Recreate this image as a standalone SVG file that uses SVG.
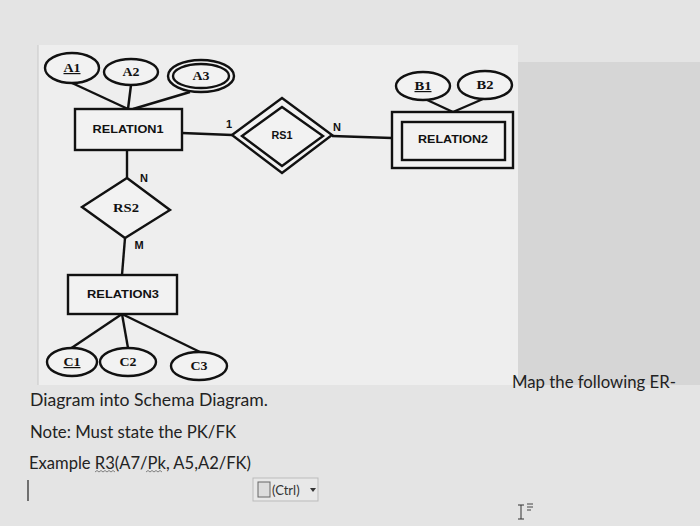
<svg xmlns="http://www.w3.org/2000/svg" width="700" height="526" viewBox="0 0 700 526">
<style>
.s{fill:none;stroke:#111;stroke-width:2.4}
.e{fill:#f2f2f2;stroke:#111;stroke-width:2.4}
.ts{font-family:"Liberation Sans",Arial,sans-serif;font-weight:bold;font-size:11px;fill:#111;text-anchor:middle}
.tf{font-family:"Liberation Serif","Times New Roman",serif;font-weight:bold;font-size:12px;fill:#111;text-anchor:middle}
.tc{font-family:"Lato","Open Sans",sans-serif;font-size:17px;fill:#222}
.w{fill:none;stroke:#666;stroke-width:0.8}
</style>
<rect x="0" y="0" width="700" height="526" fill="#e4e4e4"/>
<rect x="38" y="45" width="480" height="340" fill="#eeeeee"/>
<line x1="38" y1="45" x2="38" y2="385" stroke="#c8c8c8" stroke-width="1"/>
<rect x="518" y="62" width="182" height="323" fill="#d6d6d6"/>
<g id="connectors" class="s">
<line x1="72" y1="83" x2="128" y2="109"/>
<line x1="131" y1="85" x2="128" y2="109"/>
<line x1="190" y1="92" x2="133" y2="109"/>
<line x1="182" y1="133" x2="232" y2="135"/>
<line x1="332" y1="136" x2="392" y2="138"/>
<line x1="425" y1="99" x2="453" y2="112"/>
<line x1="483" y1="99" x2="453" y2="112"/>
<line x1="127" y1="150" x2="127" y2="178"/>
<line x1="125" y1="238" x2="122" y2="275"/>
<line x1="122" y1="314" x2="70" y2="349"/>
<line x1="122" y1="314" x2="128" y2="348"/>
<line x1="122" y1="314" x2="200" y2="352"/>
</g>
<g id="labels">
<text class="ts" x="229" y="128">1</text>
<text class="ts" x="337" y="131">N</text>
<text class="ts" x="144" y="182">N</text>
<text class="ts" x="139" y="249">M</text>
</g>
<g id="A1"><ellipse class="e" cx="72" cy="68" rx="27" ry="15"/><text class="tf" x="72" y="72" text-decoration="underline" textLength="17" lengthAdjust="spacingAndGlyphs">A1</text></g>
<g id="A2"><ellipse class="e" cx="131" cy="72" rx="27" ry="13"/><text class="tf" x="131" y="76" textLength="17" lengthAdjust="spacingAndGlyphs">A2</text></g>
<g id="A3"><ellipse class="e" cx="201" cy="76" rx="33" ry="16"/><ellipse class="s" cx="201" cy="76" rx="28" ry="12"/><text class="tf" x="201" y="80" textLength="17" lengthAdjust="spacingAndGlyphs">A3</text></g>
<g id="RELATION1"><rect class="e" x="75" y="109" width="107" height="41"/><text class="ts" x="128" y="133" textLength="71" lengthAdjust="spacingAndGlyphs">RELATION1</text></g>
<g id="RS1"><polygon class="e" points="232,135 282,98 332,135 282,173"/><polygon class="s" points="242,136 282,107 323,136 282,166"/><text class="ts" x="282" y="139" textLength="21" lengthAdjust="spacingAndGlyphs">RS1</text></g>
<g id="RELATION2"><rect class="e" x="392" y="112" width="121" height="56"/><rect class="s" x="402" y="122" width="103" height="38"/><text class="ts" x="453" y="143" textLength="70" lengthAdjust="spacingAndGlyphs">RELATION2</text></g>
<g id="B1"><ellipse class="e" cx="423" cy="86" rx="27" ry="14"/><text class="tf" x="423" y="90" text-decoration="underline" textLength="17" lengthAdjust="spacingAndGlyphs">B1</text></g>
<g id="B2"><ellipse class="e" cx="485" cy="85" rx="27" ry="14"/><text class="tf" x="485" y="89" textLength="17" lengthAdjust="spacingAndGlyphs">B2</text></g>
<g id="RS2"><polygon class="e" points="82,207 127,178 170,210 125,238"/><text class="tf" x="126" y="212" textLength="26" lengthAdjust="spacingAndGlyphs">RS2</text></g>
<g id="RELATION3"><rect class="e" x="68" y="275" width="109" height="39"/><text class="ts" x="123" y="298" textLength="72" lengthAdjust="spacingAndGlyphs">RELATION3</text></g>
<g id="C1"><ellipse class="e" cx="72" cy="362" rx="25" ry="14"/><text class="tf" x="72" y="366" text-decoration="underline" textLength="17" lengthAdjust="spacingAndGlyphs">C1</text></g>
<g id="C2"><ellipse class="e" cx="128" cy="362" rx="28" ry="14"/><text class="tf" x="128" y="366" textLength="17" lengthAdjust="spacingAndGlyphs">C2</text></g>
<g id="C3"><ellipse class="e" cx="199" cy="366" rx="28" ry="14"/><text class="tf" x="199" y="370" textLength="17" lengthAdjust="spacingAndGlyphs">C3</text></g>
<g id="text">
<text class="tc" x="512" y="388" textLength="164" lengthAdjust="spacingAndGlyphs">Map the following ER-</text>
<text class="tc" x="30" y="406" textLength="238" lengthAdjust="spacingAndGlyphs">Diagram into Schema Diagram.</text>
<text class="tc" x="30" y="438" textLength="206" lengthAdjust="spacingAndGlyphs">Note: Must state the PK/FK</text>
<text class="tc" x="29" y="469" textLength="222" lengthAdjust="spacingAndGlyphs">Example R3(A7/Pk, A5,A2/FK)</text>
<path class="w" d="M95,472 l2,-1.5 l2,1.5 l2,-1.5 l2,1.5 l2,-1.5 l2,1.5 l2,-1.5 l2,1.5 l2,-1.5 l2,1.5"/>
<path class="w" d="M146,472 l2,-1.5 l2,1.5 l2,-1.5 l2,1.5 l2,-1.5 l2,1.5 l2,-1.5 l2,1.5"/>
<line x1="28" y1="480" x2="28" y2="501" stroke="#222" stroke-width="1.2"/>
<rect x="253" y="478" width="65" height="23" fill="#e8e8e8" stroke="#bbb" stroke-width="1"/>
<rect x="258" y="482" width="12" height="15" fill="#ddd" stroke="#666" stroke-width="1"/>
<text x="272" y="495" font-family="Lato,'Open Sans',sans-serif" font-size="13" fill="#333">(Ctrl)</text>
<polygon points="310,488 316,488 313,492" fill="#333"/>
<line x1="521" y1="505" x2="521" y2="519" stroke="#333" stroke-width="1"/>
<line x1="518" y1="505" x2="524" y2="505" stroke="#333" stroke-width="1"/>
<line x1="518" y1="519" x2="524" y2="519" stroke="#333" stroke-width="1"/>
<line x1="527" y1="504" x2="533" y2="504" stroke="#444" stroke-width="1"/>
<line x1="527" y1="507" x2="533" y2="507" stroke="#444" stroke-width="1"/>
<line x1="527" y1="510" x2="531" y2="510" stroke="#444" stroke-width="1"/>
</g>
</svg>
